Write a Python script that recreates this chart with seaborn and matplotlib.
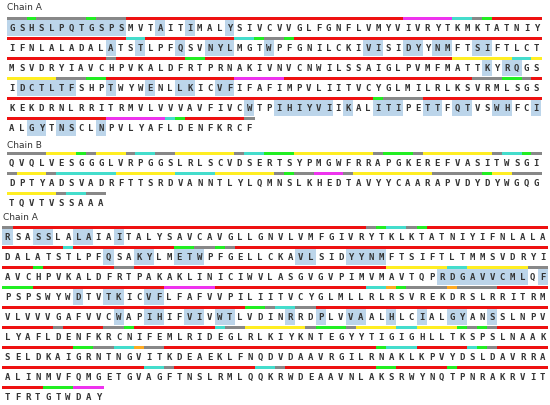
import matplotlib
matplotlib.use("Agg")
import matplotlib.pyplot as plt
from matplotlib.patches import Rectangle
import seaborn as sns

sns.set_theme(style="white")
plt.rcParams['font.family'] = ['DejaVu Sans']

# ---- data ----
titles = ["Chain A", "Chain B", "Chain A"]
seq_a1 = ["GSHSLPQTGSPSMVTAITIMALYSIVCVVGLFGNFLVMYVIVRYTKMKTATNIY",
          "IFNLALADALATSTLPFQSVNYLMGTWPFGNILCKIVISIDYYNMFTSIFTLCT",
          "MSVDRYIAVCHPVKALDFRTPRNAKIVNVCNWILSSAIGLPVMFMATTKYRQGS",
          "IDCTLTFSHPTWYWENLLKICVFIFAFIMPVLIITVCYGLMILRLKSVRMLSGS",
          "KEKDRNLRRITRMVLVVVAVFIVCWTPIHIYVIIKALITIPETTFQTVSWHFCI",
          "ALGYTNSCLNPVLYAFLDENFKRCF"]
ss_a1 = ["C2 G1 C5 G1 C3 H28 M5 T2 C1 G1 H5",
         "H12 T2 H9 T2 G1 C2 G1 H25",
         "H10 C1 H7 G2 H25 E6 T2 E1",
         "E5 C3 G2 H13 M5 H19 C3 G2 C1 H1",
         "H37 G1 C4 H12",
         "H10 M6 T1 G1 H6 C1"]
hl_a1 = [[0,1,2,3,4,5,6,7,8,9,10,11,15,18,22],
         [10,13,17,20,21,22,26,36,37,40,41,43,44,47,48],
         [48,50,51],
         [1,2,3,4,5,6,10,14,17,18,21,22],
         [24,27,28,29,30,31,32,34,37,38,39,42,43,45,46,49,50,53],
         [2,3,5,6,9]]
seq_b = ["QVQLVESGGGLVRPGGSLRLSCVDSERTSYPMGWFRRAPGKEREFVASITWSGI",
         "DPTYADSVADRFTTSRDVANNTLYLQMNSLKHEDTAVYYCAARAPVDYDYWGQG",
         "TQVTVSSAAA"]
ss_b = ["C4 E3 G1 C1 E3 C1 T2 C2 E6 C1 T2 G3 E8 C1 G3 C1 E7 C1 T2 G1 C1",
        "C1 E3 C1 T6 E6 T4 E6 C1 G1 C2 M3 C1 E8 C5 G1 E2 C3",
        "E5 C1 T2 C2"]
hl_b = [[], [], []]
seq_a2 = ["RSASSLALAIAITALYSAVCAVGLLGNVLVMFGIVRYTKLKTATNIYIFNLALA",
          "DALATSTLPFQSAKYLMETWPFGELLCKAVLSIDYYNMFTSIFTLTMMSVDRYI",
          "AVCHPVKALDFRTPAKAKLINICIWVLASGVGVPIMVMAVTQPRDGAVVCMLQF",
          "PSPSWYWDTVTKICVFLFAFVVPILIITVCYGLMLLRLRSVREKDRSLRRITRM",
          "VLVVVGAFVVCWAPIHIFVIVWTLVDINRRDPLVVAALHLCIALGYANSSLNPV",
          "LYAFLDENFKRCNIFEMLRIDEGLRLKIYKNTEGYYTIGIGHLLTKSPSLNAAK",
          "SELDKAIGRNTNGVITKDEAEKLFNQDVDAAVRGILRNAKLKPVYDSLDAVRRA",
          "ALINMVFQMGETGVAGFTNSLRMLQQKRWDEAAVNLAKSRWYNQTPNRAKRVIT",
          "TFRTGTWDAY"]
ss_a2 = ["C1 H35 C1 G1 T2 C1 G1 H12",
         "H6 T1 H10 G2 C2 G1 C1 H31",
         "H3 G1 H7 C2 H25 E6 T2 E6 C2",
         "G3 H13 M5 H15 T2 O1 G1 C4 O1 C4 H5",
         "H24 G2 C1 T2 C2 H23",
         "H5 C1 H4 C2 G1 H8 T1 C2 E6 C1 G3 C1 E4 T2 E4 G1 C1 G1 C1 H5",
         "H7 G2 C2 T2 O1 C2 H21 G1 T3 H5 T1 G1 C1 H5",
         "H14 T2 C1 H8 T2 C1 H9 G2 H5 G1 H9",
         "H4 G3 M3"]
hl_a2 = [[0,3,4,7,8,11],
         [10,13,14,17,18,19,29,30,34,35,36,37],
         [43,44,45,46,47,48,49,50,51,53],
         [7,10,11,14,15],
         [11,14,15,18,19,21,22,28,31,34,35,38,41,44,45,48],
         [], [], [], []]

colors = {"H": "#ee1111", "C": "#888888", "G": "#22ee22", "T": "#44ddcc",
          "E": "#ffee22", "M": "#ee33ee", "O": "#ffaa22"}

def decode(s):
    out = []
    for tok in s.split():
        out += [tok[0]] * int(tok[1:])
    return out

# title y, first row y, x of first residue, residue pitch, title x
blocks = [(titles[0], seq_a1, ss_a1, hl_a1, 8, 28, 11.7, 9.9, 7),
          (titles[1], seq_b, ss_b, hl_b, 145, 163, 11.7, 9.9, 7),
          (titles[2], seq_a2, ss_a2, hl_a2, 218, 237, 7.5, 10.1, 3)]

fig = plt.figure(figsize=(5.5, 4.05), dpi=100)
ax = fig.add_axes([0, 0, 1, 1])
ax.set_xlim(0, 550)
ax.set_ylim(405, 0)
ax.axis("off")

pitch = 20
for title, seqs, sss, hls, ty, y0, x0, dx, tx in blocks:
    ax.text(tx, ty, title, fontsize=6.5, color="#333333", va="center", ha="left")
    for r, (seq, ss, hl) in enumerate(zip(seqs, sss, hls)):
        y = y0 + r * pitch
        codes = decode(ss)
        for i in hl:
            ax.add_patch(Rectangle((x0 + i * dx - dx / 2, y - 8), dx, 16,
                                   facecolor="#bcd5ea", edgecolor="none", zorder=1))
        for i, c in enumerate(codes):
            ax.add_patch(Rectangle((x0 + i * dx - dx / 2, y - 11.5), dx + 0.3, 3,
                                   facecolor=colors[c], edgecolor="none", zorder=2))
        for i, ch in enumerate(seq):
            ax.text(x0 + i * dx, y + 0.5, ch, fontsize=6.5, family="DejaVu Sans Mono",
                    fontweight="bold", color="#333333", ha="center", va="center", zorder=3)

fig.savefig("out.png", dpi=100)
